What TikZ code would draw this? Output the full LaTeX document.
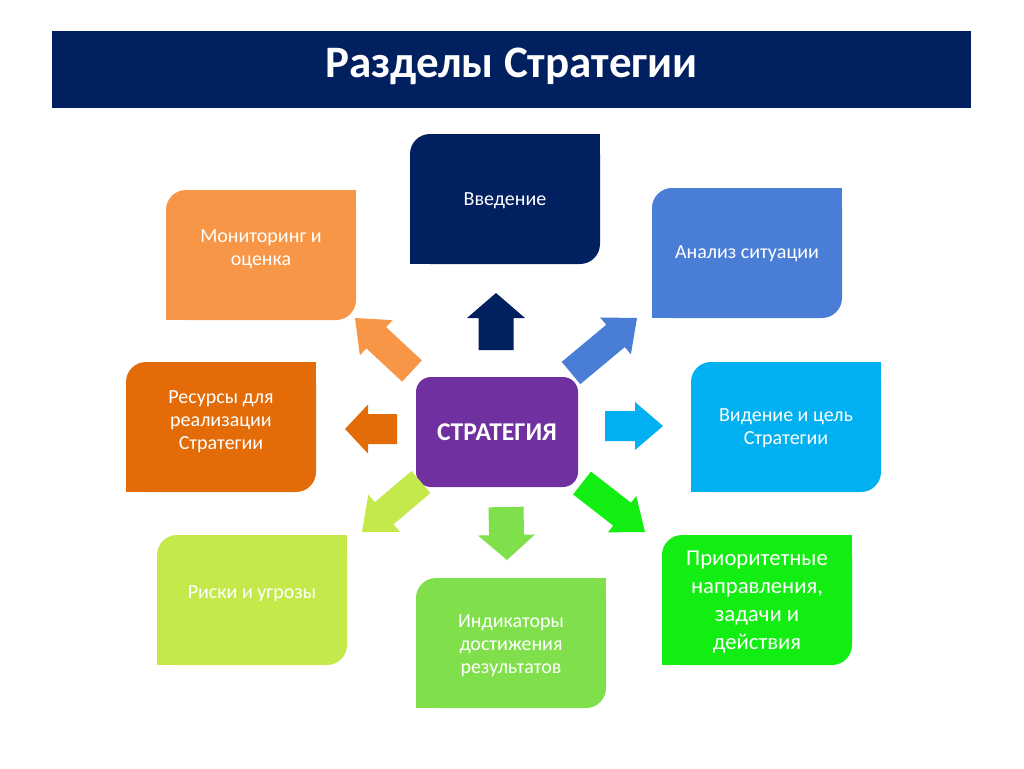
\documentclass[tikz,border=0pt]{standalone}
\usepackage{fontspec}
\setmainfont{Carlito}
\usetikzlibrary{calc}
\definecolor{cnavy}{HTML}{002060}
\definecolor{corange}{HTML}{F79646}
\definecolor{cblue}{HTML}{4A7ED6}
\definecolor{cdorange}{HTML}{E36C09}
\definecolor{ccyan}{HTML}{00B0F0}
\definecolor{cyellowgreen}{HTML}{C4E94B}
\definecolor{cgreen}{HTML}{80E04C}
\definecolor{cbright}{HTML}{12EE12}
\definecolor{cpurple}{HTML}{7030A0}
\newcommand{\blockarrow}[6]{%
  \coordinate (bT) at #2; \coordinate (bP) at #3;
  \coordinate (bH) at ($(bP)!#6pt!(bT)$);
  \fill[#1] ($(bT)!#4pt!90:(bP)$) -- ($(bH)!#4pt!90:(bP)$) -- ($(bH)!#5pt!90:(bP)$) -- (bP)
    -- ($(bH)!#5pt!-90:(bP)$) -- ($(bH)!#4pt!-90:(bP)$) -- ($(bT)!#4pt!-90:(bP)$) -- cycle;
}
\tikzset{
  dbox/.style={minimum width=190pt, minimum height=130pt, inner sep=0pt,
    path picture={
      \fill[#1, rounded corners=20pt] (path picture bounding box.south west) rectangle (path picture bounding box.north east);
      \fill[#1] ($(path picture bounding box.north east)+(-22pt,-22pt)$) rectangle (path picture bounding box.north east);
      \fill[#1] (path picture bounding box.south west) rectangle ($(path picture bounding box.south west)+(22pt,22pt)$);
    }},
  btext/.style={inner sep=0pt, align=center, text=white, font=\fontsize{20}{23}\selectfont},
}
\begin{document}
\begin{tikzpicture}[x=1pt,y=-1pt]
\useasboundingbox (0,0) rectangle (1024,768);
\node[fill=cnavy, minimum width=919pt, minimum height=77pt, inner sep=0pt] (band) at (511.5,69.5) {};
\node[text=white, inner sep=0pt, font=\fontsize{45}{54}\selectfont\bfseries] (title) at (511.5,66) {Разделы Стратегии};

\node[dbox=cnavy] (intro) at (505,199) {};
\node[btext] (introT) at ($(intro)+(0,2)$) {Введение};
\node[dbox=corange] (monitor) at (261,255) {};
\node[btext] (monitorT) at ($(monitor)+(0,-6)$) {Мониторинг и\\оценка};
\node[dbox=cblue] (analysis) at (747,253) {};
\node[btext] (analysisT) at ($(analysis)+(0,1)$) {Анализ ситуации};
\node[dbox=cdorange] (resources) at (221,427) {};
\node[btext] (resourcesT) at ($(resources)+(0,-5)$) {Ресурсы для\\реализации\\Стратегии};
\node[dbox=ccyan] (vision) at (786,427) {};
\node[btext] (visionT) at ($(vision)+(0,1)$) {Видение и цель\\Стратегии};
\node[dbox=cyellowgreen] (risks) at (252,600) {};
\node[btext] (risksT) at ($(risks)+(0,-6)$) {Риски и угрозы};
\node[dbox=cgreen] (indicators) at (511,643) {};
\node[btext] (indicatorsT) at ($(indicators)+(0,3)$) {Индикаторы\\достижения\\результатов};
\node[dbox=cbright] (priorities) at (757,600) {};
\node[btext, font=\fontsize{22.7}{28}\selectfont] (prioritiesT) at ($(priorities)+(0,2)$) {Приоритетные\\направления,\\задачи и\\действия};

\node[fill=cpurple, rounded corners=15pt, minimum width=162pt, minimum height=110pt, inner sep=0pt,
  text=white, font=\fontsize{25.6}{30}\selectfont\bfseries] (strategy) at (497,432) {СТРАТЕГИЯ};

\blockarrow{cnavy}{(496,350)}{(496,293)}{17.5}{29}{25}
\blockarrow{corange}{(412,371)}{(355,318)}{14.5}{24}{29}
\blockarrow{cblue}{(571,373)}{(637,318)}{14.5}{24}{28}
\blockarrow{cdorange}{(397,429)}{(345,429)}{15}{24.5}{23}
\blockarrow{ccyan}{(605,426)}{(663,426)}{15}{24}{28}
\blockarrow{cyellowgreen}{(421,482)}{(362,532)}{14.5}{24.5}{29}
\blockarrow{cgreen}{(506,507)}{(507,560)}{17.5}{28.5}{25}
\blockarrow{cbright}{(582,483)}{(645,532)}{14.5}{23}{29}
\end{tikzpicture}
\end{document}
